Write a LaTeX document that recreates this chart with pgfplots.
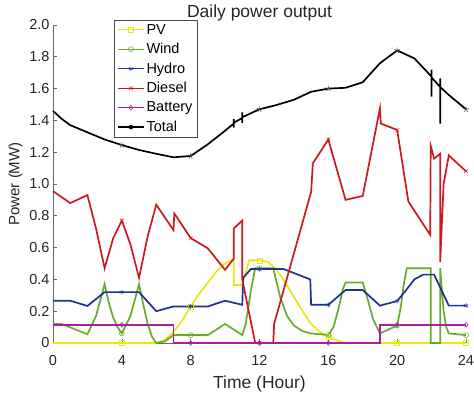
\documentclass[border=0pt]{standalone}
\usepackage{fontspec}
\setmainfont{Liberation Sans}
\usepackage{pgfplots}
\pgfplotsset{compat=1.18}
\definecolor{pvc}{RGB}{232,232,20}
\definecolor{windc}{RGB}{105,170,45}
\definecolor{hydroc}{RGB}{30,50,150}
\definecolor{dieselc}{RGB}{205,25,30}
\definecolor{battc}{RGB}{165,30,165}
\begin{document}
\begin{tikzpicture}
\begin{axis}[
  scale only axis, width=413pt, height=318pt,
  xmin=0, xmax=24, ymin=0, ymax=2,
  clip=false,
  axis x line*=bottom, axis y line*=left,
  axis line style={color=black!60, line width=0.6pt},
  tick align=inside, major tick length=4pt,
  tick style={color=black!60, line width=0.6pt},
  xtick={0,4,8,12,16,20,24},
  ytick={0,0.2,0.4,0.6,0.8,1.0,1.2,1.4,1.6,1.8,2},
  yticklabels={0,0.2,0.4,0.6,0.8,1.0,1.2,1.4,1.6,1.8,2.0},
  /pgf/number format/assume math mode=true,
  ticklabel style={font=\fontsize{14.5}{17}\selectfont, text=black!85},
  xticklabel style={yshift=-9pt},
  xlabel={Time (Hour)}, ylabel={Power (MW)},
  xlabel style={font=\fontsize{17.5}{20}\selectfont, text=black!85, yshift=-3pt},
  ylabel style={font=\fontsize{15}{18}\selectfont, text=black!85},
  title={Daily power output},
  title style={font=\fontsize{17.5}{20}\selectfont, text=black!85, yshift=-6pt},
  legend cell align=left,
  legend style={at={(0.148,1.016)}, anchor=north west, draw=black!70,
    font=\fontsize{14.5}{17}\selectfont, fill=white, row sep=3.6pt},
  legend image code/.code={\draw[mark repeat=2,mark phase=2,#1] plot coordinates {(0pt,0pt)(13pt,0pt)(26pt,0pt)};},
  mark options={solid, line width=0.5pt},
]
% legend entries
\addlegendimage{pvc, line width=1.2pt, mark=square, mark size=2.5pt}
\addlegendentry{PV}
\addlegendimage{windc, line width=1.2pt, mark=o, mark size=2.5pt}
\addlegendentry{Wind}
\addlegendimage{hydroc, line width=1.2pt, mark=asterisk, mark size=2.5pt}
\addlegendentry{Hydro}
\addlegendimage{dieselc, line width=1.2pt, mark=x, mark size=2.5pt}
\addlegendentry{Diesel}
\addlegendimage{battc, line width=1.2pt, mark=diamond, mark size=2.5pt}
\addlegendentry{Battery}
\addlegendimage{black, line width=1.2pt, mark=*, mark size=2pt}
\addlegendentry{Total}

% PV
\addplot[pvc, line width=1.7pt, forget plot] coordinates {(0,0)(6,0)(6.5,0.02)(7,0.07)(7.5,0.14)(8,0.23)(8.5,0.31)(9,0.38)(9.5,0.45)(10,0.50)(10.5,0.53)(10.5,0.365)(11,0.365)(11.4,0.52)(12,0.52)(12.5,0.51)(13,0.46)(13.5,0.38)(14,0.29)(14.5,0.20)(15,0.12)(15.5,0.07)(16,0.04)(16.5,0.015)(17,0)(24,0)};
\addplot[pvc, only marks, mark=square, mark size=2.5pt, forget plot] coordinates {(4,0)(8,0.23)(12,0.52)(16,0.04)(20,0)(24,0)};

% Wind
\addplot[windc, line width=1.7pt, forget plot] coordinates {(0,0.12)(0.5,0.12)(2,0.055)(2.5,0.17)(3,0.37)(3.25,0.25)(3.5,0.16)(3.75,0.10)(4,0.06)(4.5,0.17)(5,0.37)(5.25,0.24)(5.5,0.12)(5.75,0.04)(6,0)(6.5,0.01)(7,0.05)(9,0.05)(10,0.12)(11,0.05)(11.2,0.12)(11.5,0.33)(11.75,0.47)(12.8,0.47)(13.2,0.29)(13.6,0.17)(14,0.11)(14.5,0.075)(15,0.06)(16,0.05)(16.3,0.10)(16.6,0.22)(16.85,0.34)(17,0.38)(18,0.38)(18.3,0.27)(18.6,0.15)(19,0.06)(20,0.11)(20.2,0.22)(20.4,0.38)(20.56,0.47)(21.95,0.47)(21.95,0)(22.5,0)(22.5,0.47)(22.7,0.2)(22.85,0.1)(23,0.06)(24,0.05)};
\addplot[windc, only marks, mark=o, mark size=2.5pt, forget plot] coordinates {(4,0.06)(8,0.05)(12,0.47)(16,0.05)(20,0.11)(24,0.05)};

% Hydro
\addplot[hydroc, line width=1.7pt, forget plot] coordinates {(0,0.266)(1,0.266)(2,0.233)(3,0.32)(5,0.32)(6,0.20)(7,0.23)(9,0.23)(10,0.266)(11,0.24)(11.05,0.41)(11.5,0.465)(13.4,0.465)(14.95,0.40)(15,0.24)(16,0.24)(17,0.333)(18,0.333)(19,0.235)(20,0.264)(20.5,0.33)(21,0.40)(21.5,0.43)(22.15,0.43)(23,0.235)(24,0.235)};
\addplot[hydroc, only marks, mark=asterisk, mark size=2.5pt, forget plot] coordinates {(4,0.32)(8,0.23)(12,0.465)(16,0.24)(20,0.264)(24,0.235)};

% Diesel
\addplot[dieselc, line width=1.7pt, forget plot] coordinates {(0,0.955)(1,0.88)(2,0.93)(2.5,0.72)(3,0.47)(3.5,0.66)(4,0.77)(4.5,0.62)(5,0.41)(5.5,0.67)(6,0.87)(7,0.71)(7.05,0.815)(8,0.66)(9,0.595)(10,0.46)(10.5,0.53)(10.5,0.72)(11,0.77)(11,0.40)(11.75,0)(12.8,0)(12.85,0.12)(15,0.95)(15.1,1.13)(16,1.28)(17,0.90)(18,0.925)(19,1.476)(19.05,1.38)(20,1.34)(20.65,0.89)(21.92,0.68)(21.95,1.24)(22.15,1.16)(22.5,1.19)(22.5,0.51)(22.7,1.0)(23,1.18)(24,1.08)};
\addplot[dieselc, only marks, mark=x, mark size=2.5pt, forget plot] coordinates {(4,0.77)(8,0.66)(12,0)(16,1.28)(20,1.34)(24,1.08)};

% Battery
\addplot[battc, line width=1.7pt, forget plot] coordinates {(0,0.115)(7,0.115)(7,0)(19,0)(19,0.115)(24,0.115)};
\addplot[battc, only marks, mark=diamond, mark size=2.5pt, forget plot] coordinates {(4,0.115)(8,0)(12,0)(16,0)(20,0.115)(24,0.115)};

% Total
\addplot[black, line width=1.7pt, forget plot] coordinates {(0,1.46)(0.5,1.41)(1,1.37)(2,1.325)(3,1.28)(4,1.245)(5,1.214)(6,1.19)(7,1.168)(8,1.176)(9,1.25)(10,1.335)(10.5,1.38)(10.5,1.355)(10.5,1.41)(10.5,1.385)(11,1.415)(11,1.385)(11,1.45)(11,1.42)(12,1.47)(13,1.497)(14,1.53)(15,1.58)(16,1.60)(17,1.605)(18,1.64)(19,1.76)(20,1.84)(21,1.79)(22,1.675)(22,1.55)(22,1.72)(22,1.67)(22.5,1.61)(22.5,1.38)(22.5,1.665)(22.5,1.61)(23,1.56)(24,1.47)};
\addplot[black!70, only marks, mark=star, mark size=3pt, forget plot] coordinates {(4,1.245)(8,1.176)(12,1.47)(16,1.60)(20,1.84)(24,1.47)};
\end{axis}
\pgfresetboundingbox
\path ([shift={(-53pt,-50pt)}]current axis.south west) rectangle ([shift={(8pt,25pt)}]current axis.north east);
\end{tikzpicture}
\end{document}
